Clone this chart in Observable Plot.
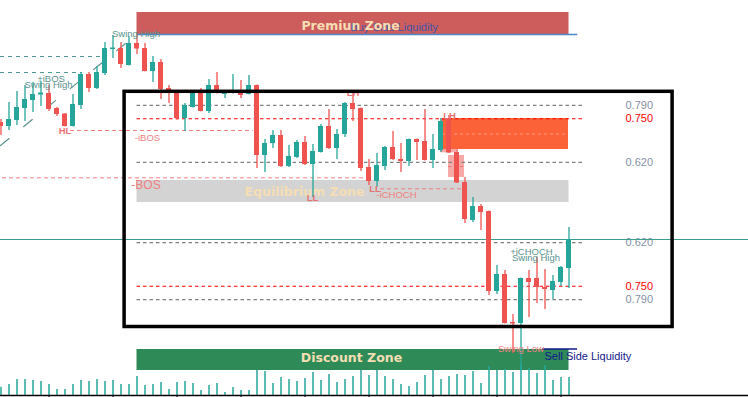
<!DOCTYPE html>
<html><head><meta charset="utf-8">
<script src="https://cdn.jsdelivr.net/npm/d3@7"></script>
<script src="https://cdn.jsdelivr.net/npm/@observablehq/plot@0.6"></script>
<style>
html,body{margin:0;padding:0;background:#fff;}
#wrap{position:relative;width:748px;height:397px;overflow:hidden;background:#fff;}
#wrap svg{position:absolute;left:0;}
</style></head><body><div id="wrap"></div>
<script>
// ---- candles (price units) ----
const open  = [275,271,277,289,297,302.5,304,289,283.5,271,292,323,309,324,348,349,332,354,349,326,335,309,304,279,290,305,286,312,303,304.5,304.5,303,312,242,254,262,231,240,255,233,245,271,249,263,294,289,230,216,231,250,238,236,258,256,237,247,278,245,215,177,191,186,106,123,75,74,119,119,110,107,115,129];
const high  = [278,295,306,312,315,316,312,290,284,303,325,325,331,355,362,355,361,364,354,341,338,312,305,294,305,309,318,325,305,323,317,322,312.5,258,267,267,252,257,261,253,273,288,268,295,304,289.5,238,244,251,266,254,258.5,258.5,288,263,279,282,248,220,200,193,186.5,132,127,83,119.5,127,140,128,122,131,170];
const low   = [262,267,272,276,285,291,286,281,270.5,270.5,288,305,308,322,339,329,331.5,343,325.5,315,298,294,277.5,266,289.5,285.5,284,303.5,299,303.5,299,302.5,229,225,249,230,230,239,232,200,244.5,248,238,260,276,226,212,210,227,237,225,231,237,236.5,229,245,244,214,174,175,167,102,103,73.5,44,27,80,94,88,98,111,109];
const close = [271,278,290,298,303,304.5,288,283,271,293,323,309,325,349,349.5,333,354,348.5,326,335,308,304,279,292,304,286,312,304,304.5,306,302,312,242,254,262,231,241,255,233,246,271,249,263,294,288,229,216,232,250,238,236,258,255,237,248,276,244.5,214.5,178,191,185,106,123,74,73.5,119,115,110,108,116,130,158];
const volume = [830,1100,1600,1600,1500,1400,1100,600,600,1100,1500,1400,1600,1400,1500,1100,1100,1900,1000,1100,1300,600,1300,1400,1200,500,1000,1200,300,800,500,500,2500,2400,1200,1800,1600,1400,1700,2300,1500,2100,1300,1600,1900,2500,2000,2500,1900,1600,1100,900,1300,2000,2500,1600,1900,2100,2000,2400,1200,2900,2500,2600,2300,3000,2700,2200,3000,1500,1800,1800];
const axisTicks = [6,14,22,30,38,46,54,62,70];

// ---- zones ----
const zoneNames  = ["Premiun Zone","Equilibrium Zone","Discount Zone"];
const zoneTop    = [385,217,48];
const zoneBottom = [363,195,27];
const zoneFill   = ["#cd5c5c","#d3d3d3","#2e8b57"];
const zoneTextX  = [43.69,37.94,43.81];
const zoneTextY  = [371.5,206,40];
const zoneStart = 17, zoneEnd = 71;

// ---- fibonacci ----
const swingHigh = 362.5, swingLow = 27.5;
const fibRatios = [0.79,0.75,0.62];
const fibLabels = ["0.790","0.750","0.620"];
const fibColors = ["#808080","#ff0000","#808080"];

// ---- structure lines ----
const tealLines = [{p:341,a:-0.06,b:12.6},{p:325,a:-0.06,b:10.2}];
const redLines  = [{p:267,a:8.69,b:31.5},{p:219.7,a:0.19,b:45.94},{p:208.7,a:47.44,b:57.8}];
const diagLine  = [{k:-0.06,p:252},{k:16.94,p:363}];

// ---- boxes ----
const orderBlock = [{a:55.19,b:70.94,top:279,bottom:248,mid:263.5}];
const fvgBoxes   = [{a:54.94,b:56.94,top:279,bottom:244.7},{a:55.94,b:57.94,top:242,bottom:220,mid:231}];
const frameBox   = [{a:15.45,b:83.95,top:305.7,bottom:70.5}];

// ---- labels ----
const bullLabels = [
  {t:"+iBOS",k:6.25,p:319},{t:"Swing High",k:5.94,p:313},{t:"Swing High",k:16.875,p:363.5},
  {t:"+iCHOCH",k:66.3,p:145.3},{t:"Swing High",k:66.875,p:140}];
const bearLabels = [{t:"-iBOS",k:18.31,p:260},{t:"-iCHOCH",k:49.44,p:202.5},{t:"Swing Low",k:65,p:48.5}];
const pivotLabels = [{t:"HL",k:8,p:266.5},{t:"LH",k:44,p:305},{t:"LH",k:56.06,p:282},{t:"LL",k:38.94,p:200},{t:"LL",k:46.75,p:208.5}];
const bigLabels = [{t:"-BOS",k:18.125,p:212}];
const liquidity = [{t:"Buy Side Liquidity",k:43.69,p:370,a:17,b:72.1,lp:363,c:"#4356a8",lc:"#4a86c8"},
                   {t:"Sell Side Liquidity",k:67.94,p:41,a:67.7,b:72.06,lp:48.5,c:"#14188c",lc:"#14188c"}];

const UP = "#26a69a", DOWN = "#ef5350";
const candles = d3.range(open.length).map(i => ({i, o:open[i], h:high[i], l:low[i], c:close[i], v:volume[i]}));
const col = d => d.c >= d.o ? UP : DOWN;
const zones = zoneNames.map((n,j)=>({n, top:zoneTop[j], bottom:zoneBottom[j], fill:zoneFill[j], tx:zoneTextX[j], ty:zoneTextY[j]}));
const fibUpper = fibRatios.map((r,j)=>({p: swingLow + r*(swingHigh-swingLow), t:fibLabels[j], c:fibColors[j]}));
const fibLower = fibRatios.map((r,j)=>({p: swingHigh - r*(swingHigh-swingLow), t:fibLabels[j], c:fibColors[j]}));
const fibs = fibUpper.concat(fibLower);
const xDom = [-0.0625, 93.4375];

const main = Plot.plot({
  width:748, height:397, margin:0,
  x:{domain:xDom, axis:null}, y:{domain:[0,397], axis:null},
  style:{background:"transparent"},
  marks:[
    Plot.rect(zones,{x1:zoneStart,x2:zoneEnd,y1:"bottom",y2:"top",fill:"fill"}),
    Plot.rect(fvgBoxes,{x1:"a",x2:"b",y1:"bottom",y2:"top",fill:DOWN,fillOpacity:0.5}),
    Plot.ruleY(fvgBoxes.filter(d=>d.mid),{y:"mid",x1:"a",x2:"b",stroke:"#e05050",strokeDasharray:"3,3",strokeOpacity:0.6}),
    Plot.rect(orderBlock,{x1:"a",x2:"b",y1:"bottom",y2:"top",fill:"#fc6238"}),
    Plot.ruleY(orderBlock,{y:"mid",x1:"a",x2:"b",stroke:"#ff9a80",strokeDasharray:"3,3"}),
    Plot.ruleY(fibs,{y:"p",x1:zoneStart,x2:72.7,stroke:"c",strokeDasharray:"3.5,3",strokeWidth:1.2}),
    Plot.text(fibs,{x:78.06,y:"p",text:"t",fill:d=>d.c==="#ff0000"?"#ff0000":"#8591a5",textAnchor:"start",fontSize:11,fontFamily:"Liberation Sans"}),
    Plot.ruleY(tealLines,{y:"p",x1:"a",x2:"b",stroke:"#4f9a94",strokeDasharray:"4,4"}),
    Plot.ruleY(redLines,{y:"p",x1:"a",x2:"b",stroke:"#f08080",strokeDasharray:"4,3"}),
    Plot.line(diagLine,{x:"k",y:"p",stroke:"#5b928e",strokeDasharray:"11,19",strokeWidth:1.2}),
    Plot.ruleY(liquidity,{y:"lp",x1:"a",x2:"b",stroke:"lc",strokeWidth:1.4}),
    Plot.text(liquidity,{x:"k",y:"p",text:"t",fill:"c",textAnchor:"start",fontSize:11,fontFamily:"Liberation Sans"}),
    Plot.text(zones,{x:"tx",y:"ty",text:"n",fill:"#f5deb3",fontSize:12.5,fontWeight:"bold",fontFamily:"DejaVu Sans"}),
    Plot.ruleY([close[close.length-1]],{stroke:"#3a9d8f",strokeWidth:1.2}),
    Plot.ruleX(candles,{x:"i",y1:"l",y2:"h",stroke:col,strokeWidth:1.3}),
    Plot.rect(candles,{x1:d=>d.i-0.3125,x2:d=>d.i+0.3125,y1:d=>Math.min(d.o,d.c),y2:d=>Math.max(d.o,d.c,Math.min(d.o,d.c)+1.2),fill:col}),
    Plot.text(bullLabels,{x:"k",y:"p",text:"t",fill:"#5b928e",fontSize:9.5,fontFamily:"Liberation Sans"}),
    Plot.text(bearLabels,{x:"k",y:"p",text:"t",fill:"#f08080",fontSize:9.5,fontFamily:"Liberation Sans"}),
    Plot.text(pivotLabels,{x:"k",y:"p",text:"t",fill:"#e57373",fontSize:9.5,fontWeight:"bold",fontFamily:"Liberation Sans"}),
    Plot.text(bigLabels,{x:"k",y:"p",text:"t",fill:"#f08080",fontSize:12,fontFamily:"Liberation Sans"}),
    Plot.rect(frameBox,{x1:"a",x2:"b",y1:"bottom",y2:"top",fill:"none",stroke:"black",strokeWidth:3.5})
  ]
});
main.style.top = "0px";

const vol = Plot.plot({
  width:748, height:32, marginTop:0, marginBottom:2, marginLeft:0, marginRight:0,
  x:{domain:xDom, label:null}, y:{domain:[0,3000], axis:null},
  style:{background:"transparent", overflow:"visible"},
  marks:[
    Plot.ruleX(candles,{x:"i",y1:0,y2:"v",stroke:UP,strokeWidth:1.5}),
    Plot.ruleY([0],{stroke:"black",strokeWidth:1.5}),
    Plot.axisX({ticks:axisTicks,tickSize:3,tickFormat:()=>"",label:null,stroke:"black"})
  ]
});
vol.style.top = "365px";

const wrap = document.getElementById("wrap");
wrap.appendChild(main);
wrap.appendChild(vol);
</script>
</body></html>
